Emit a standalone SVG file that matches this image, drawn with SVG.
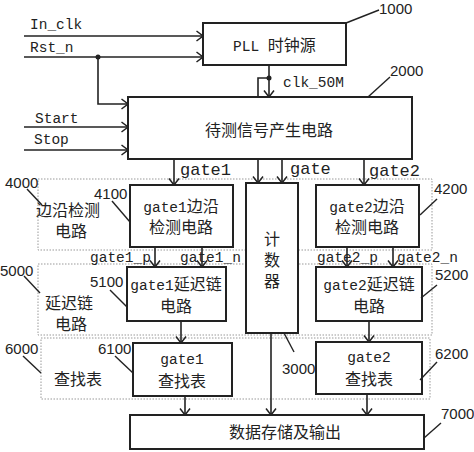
<svg xmlns="http://www.w3.org/2000/svg" width="474" height="452" viewBox="0 0 474 452">
<style>
.box{fill:#fff;stroke:#222;stroke-width:2}
.grp{fill:none;stroke:#999;stroke-width:1;stroke-dasharray:1.5 1.5}
.ln{fill:none;stroke:#222;stroke-width:1.6}
.ld{fill:none;stroke:#222;stroke-width:1.4}
.cj{font-family:"Noto Sans CJK SC",sans-serif;font-size:16px;fill:#222}
.lat{font-family:"Liberation Mono",monospace;font-size:14.5px;fill:#222}
.big{font-family:"Liberation Mono",monospace;font-size:17px;fill:#222}
.num{font-family:"Liberation Sans",Arial,sans-serif;font-size:15px;fill:#222}
.mid{text-anchor:middle}
</style>
<defs>
<marker id="ar" viewBox="-8 -6 9 12" markerWidth="9" markerHeight="12" refX="0" refY="0" orient="auto" markerUnits="userSpaceOnUse">
<path d="M-6.5,-5 L0,0 L-6.5,5" fill="none" stroke="#222" stroke-width="1.5"/>
</marker>
</defs>
<rect width="474" height="452" fill="#fff"/>

<g id="group4000">
<rect class="grp" x="38" y="179" width="394" height="71"/>
<text class="cj" x="36" y="216">边沿检测</text>
<text class="cj" x="55" y="237">电路</text>
<text class="num" x="5" y="188">4000</text>
<line class="ld" x1="27" y1="189" x2="42" y2="205"/>
</g>
<g id="group5000">
<rect class="grp" x="38" y="264" width="394" height="71"/>
<text class="cj" x="45" y="309">延迟链</text>
<text class="cj" x="55" y="330">电路</text>
<text class="num" x="0" y="276">5000</text>
<line class="ld" x1="24" y1="276" x2="40" y2="293"/>
</g>
<g id="group6000">
<rect class="grp" x="41" y="338" width="389" height="61"/>
<text class="cj" x="54" y="385">查找表</text>
<text class="num" x="5" y="354">6000</text>
<line class="ld" x1="23" y1="356" x2="41" y2="373"/>
</g>

<g id="connectors">
<line class="ln" x1="24" y1="36" x2="203" y2="36" marker-end="url(#ar)"/>
<line class="ln" x1="24" y1="57" x2="203" y2="57" marker-end="url(#ar)"/>
<polyline class="ln" points="98,57 98,104 128,104" marker-end="url(#ar)"/>
<circle cx="98" cy="57" r="2.5" fill="#222"/>
<line class="ln" x1="24" y1="127" x2="128" y2="127" marker-end="url(#ar)"/>
<line class="ln" x1="24" y1="150" x2="128" y2="150" marker-end="url(#ar)"/>
<line class="ln" x1="269" y1="65" x2="269" y2="97" marker-end="url(#ar)"/>
<polyline class="ln" points="269,78 258,78 258,183" marker-end="url(#ar)"/>
<circle cx="269" cy="78" r="2.5" fill="#222"/>
<line class="ln" x1="174" y1="159" x2="174" y2="185" marker-end="url(#ar)"/>
<line class="ln" x1="282" y1="159" x2="282" y2="183" marker-end="url(#ar)"/>
<line class="ln" x1="364" y1="159" x2="364" y2="185" marker-end="url(#ar)"/>
<line class="ln" x1="155" y1="247" x2="155" y2="267" marker-end="url(#ar)"/>
<line class="ln" x1="202" y1="247" x2="202" y2="267" marker-end="url(#ar)"/>
<line class="ln" x1="347" y1="247" x2="347" y2="267" marker-end="url(#ar)"/>
<line class="ln" x1="393" y1="247" x2="393" y2="267" marker-end="url(#ar)"/>
<line class="ln" x1="181" y1="321" x2="181" y2="343" marker-end="url(#ar)"/>
<line class="ln" x1="369" y1="321" x2="369" y2="342" marker-end="url(#ar)"/>
<line class="ln" x1="185" y1="396" x2="185" y2="415" marker-end="url(#ar)"/>
<line class="ln" x1="367" y1="394" x2="367" y2="415" marker-end="url(#ar)"/>
<line class="ln" x1="271" y1="333" x2="271" y2="415" marker-end="url(#ar)"/>
<text class="lat" x="30" y="29">In_clk</text>
<text class="lat" x="30" y="52">Rst_n</text>
<text class="lat" x="35" y="123">Start</text>
<text class="lat" x="34" y="144">Stop</text>
<text class="lat" x="283" y="87">clk_50M</text>
<text class="big" x="180" y="175">gate1</text>
<text class="big" x="290" y="174">gate</text>
<text class="big" x="369" y="176">gate2</text>
<text class="lat" x="90" y="262">gate1_p</text>
<text class="lat" x="180" y="262">gate1_n</text>
<text class="lat" x="317" y="262">gate2_p</text>
<text class="lat" x="397" y="262">gate2_n</text>
</g>

<g id="n1000">
<rect class="box" x="203" y="23" width="143" height="42"/>
<text x="233" y="51"><tspan class="lat">PLL </tspan><tspan class="cj" font-size="17">时钟源</tspan></text>
<line class="ld" x1="346" y1="23" x2="379" y2="10"/>
<text class="num" x="379" y="14">1000</text>
</g>
<g id="n2000">
<rect class="box" x="128" y="97" width="284" height="62"/>
<text class="cj mid" x="269" y="136" font-size="16.5">待测信号产生电路</text>
<line class="ld" x1="368" y1="97" x2="390" y2="77"/>
<text class="num" x="390" y="76">2000</text>
</g>
<g id="n3000">
<rect class="box" x="246" y="183" width="52" height="150"/>
<text class="cj mid" x="272" y="245">计</text>
<text class="cj mid" x="272" y="266">数</text>
<text class="cj mid" x="272" y="287">器</text>
<line class="ld" x1="284" y1="333" x2="294" y2="352"/>
<text class="num" x="282" y="374">3000</text>
</g>
<g id="n4100">
<rect class="box" x="130" y="185" width="103" height="62"/>
<text class="mid" x="181" y="212"><tspan class="lat">gate1</tspan><tspan class="cj">边沿</tspan></text>
<text class="cj mid" x="181" y="233">检测电路</text>
<line class="ld" x1="112" y1="201" x2="130" y2="222"/>
<text class="num" x="94" y="199">4100</text>
</g>
<g id="n4200">
<rect class="box" x="316" y="185" width="103" height="62"/>
<text class="mid" x="367" y="212"><tspan class="lat">gate2</tspan><tspan class="cj">边沿</tspan></text>
<text class="cj mid" x="367" y="233">检测电路</text>
<line class="ld" x1="420" y1="215" x2="437" y2="199"/>
<text class="num" x="434" y="194">4200</text>
</g>
<g id="n5100">
<rect class="box" x="127" y="267" width="99" height="54"/>
<text class="mid" x="176" y="290"><tspan class="lat">gate1</tspan><tspan class="cj">延迟链</tspan></text>
<text class="cj mid" x="176" y="312">电路</text>
<line class="ld" x1="110" y1="290" x2="127" y2="307"/>
<text class="num" x="90" y="287">5100</text>
</g>
<g id="n5200">
<rect class="box" x="316" y="267" width="106" height="54"/>
<text class="mid" x="369" y="290"><tspan class="lat">gate2</tspan><tspan class="cj">延迟链</tspan></text>
<text class="cj mid" x="369" y="312">电路</text>
<line class="ld" x1="421" y1="298" x2="437" y2="285"/>
<text class="num" x="435" y="280">5200</text>
</g>
<g id="n6100">
<rect class="box" x="133" y="343" width="99" height="53"/>
<text class="lat mid" x="182" y="364">gate1</text>
<text class="cj mid" x="182" y="387">查找表</text>
<line class="ld" x1="115" y1="356" x2="133" y2="373"/>
<text class="num" x="98" y="354">6100</text>
</g>
<g id="n6200">
<rect class="box" x="316" y="342" width="106" height="52"/>
<text class="lat mid" x="369" y="362">gate2</text>
<text class="cj mid" x="369" y="385">查找表</text>
<line class="ld" x1="420" y1="380" x2="437" y2="362"/>
<text class="num" x="435" y="359">6200</text>
</g>
<g id="n7000">
<rect class="box" x="130" y="415" width="294" height="34"/>
<text class="cj mid" x="285" y="438" font-size="16.5">数据存储及输出</text>
<line class="ld" x1="424" y1="438" x2="441" y2="423"/>
<text class="num" x="441" y="419">7000</text>
</g>
</svg>
